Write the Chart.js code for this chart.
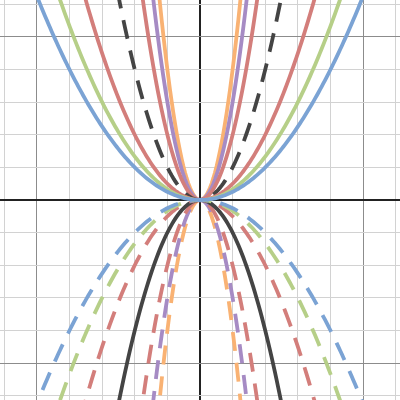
<!DOCTYPE html>
<html><head><meta charset="utf-8">
<script src="https://cdn.jsdelivr.net/npm/chart.js@4"></script>
<style>html,body{margin:0;padding:0;background:#fff}#c{width:400px;height:400px}</style>
</head><body><div id="c"><canvas id="chart" width="400" height="400"></canvas></div>
<script>
// parabola coefficients y = a*x^2
const upperCoefs  = [0.25, 1/3, 0.5, 1, 2, 3, 4];
const upperColors = ['#7ba3d4', '#b6cf88', '#d37e7b', '#444444', '#d37e7b', '#a68bc4', '#f9b273'];
const upperDashed = [false, false, false, true, false, false, false];
const lowerCoefs  = [-0.25, -1/3, -0.5, -1, -2, -3, -4];
const lowerColors = upperColors;
const lowerDashed = [true, true, true, false, true, true, true];
const gridTicks = [-6,-5,-4,-3,-2,-1,0,1,2,3,4,5,6];
const R = 6.13;

function curve(a){
  const pts = [];
  for(let i=0;i<=240;i++){ const x = -R + 2*R*i/240; pts.push({x, y:a*x*x}); }
  return pts;
}
const datasets = [];
function addSet(coefs, colors, dashed){
  coefs.forEach((a,i)=>{
    datasets.push({data: curve(a), borderColor: colors[i], borderWidth: 3.8,
      borderDash: dashed[i] ? [19, 12] : [], showLine: true, pointRadius: 0, tension: 0});
  });
}
addSet(upperCoefs, upperColors, upperDashed);
addSet(lowerCoefs, lowerColors, lowerDashed);

function gridColor(ctx){
  const v = ctx.tick && ctx.tick.value;
  if(v === 0) return '#222';
  if(Math.abs(v) === 5) return '#8c8c8c';
  return '#d2d2d2';
}
const axis = {type:'linear', min:-R, max:R,
  afterBuildTicks: s => { s.ticks = gridTicks.map(v=>({value:v})); },
  ticks:{display:false}, border:{display:false},
  grid:{color:gridColor, lineWidth: c => c.tick && c.tick.value===0 ? 2 : 1, drawTicks:false}};

new Chart(document.getElementById('chart'), {
  type:'scatter',
  data:{datasets},
  options:{responsive:false, animation:false, clip:true,
    layout:{padding:0},
    plugins:{legend:{display:false}, tooltip:{enabled:false}},
    scales:{x:axis, y:{...axis}}}
});
</script></body></html>
